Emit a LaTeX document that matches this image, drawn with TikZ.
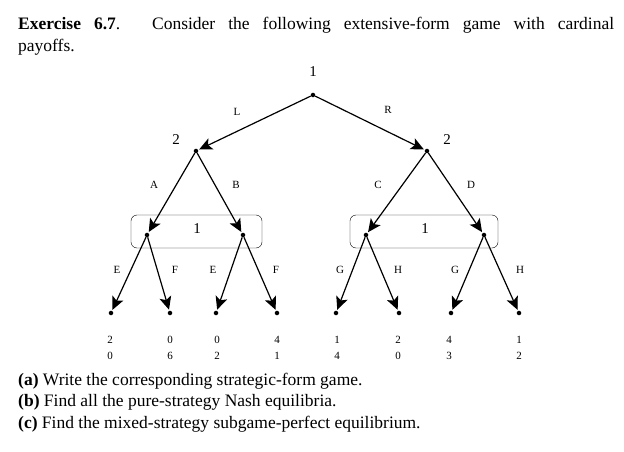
\documentclass[tikz,border=0pt]{standalone}
\usepackage{fontspec}
\setmainfont{Liberation Serif}
\usetikzlibrary{arrows.meta}
\begin{document}
\begin{tikzpicture}[x=1pt,y=-1pt,
  dot/.style={circle,fill,inner sep=1.6pt},
  edge/.style={line width=1.2pt,-{Stealth[length=13pt,width=12pt,inset=3pt]},shorten >=1pt},
  lab/.style={font=\fontsize{11}{12}\selectfont},
  pl/.style={font=\fontsize{15}{16}\selectfont},
  pay/.style={font=\fontsize{11}{16}\selectfont,align=center},
  iset/.style={draw,rounded corners=6pt,line width=0.4pt},
  txt/.style={font=\fontsize{17.5}{22}\selectfont,anchor=west,inner sep=0}]
\useasboundingbox (0,0) rectangle (624,452);
\node[txt] (hd) at (18,25)
 {\makebox[596pt][s]{\textbf{Exercise 6.7}. Consider the following extensive-form game with cardinal}};
\node[txt] (hd2) at (18,47) {payoffs.};
\node[iset,minimum width=131pt,minimum height=33pt] (b1) at (196.5,231.5) {};
\node[iset,minimum width=148pt,minimum height=33pt] (b2) at (424,231.5) {};
\node[dot] (r) at (313,95) {};
\node[dot] (n1) at (196,151) {};
\node[dot] (n2) at (427,151) {};
\node[dot] (a1) at (147,235) {};
\node[dot] (a2) at (243,235) {};
\node[dot] (a3) at (366,235) {};
\node[dot] (a4) at (484,235) {};
\foreach \i/\x in {1/111,2/170,3/216,4/277,5/336,6/399,7/451,8/519}
  \node[dot] (t\i) at (\x,313) {};
\draw[edge] (r) -- (n1); \draw[edge] (r) -- (n2);
\draw[edge] (n1) -- (a1); \draw[edge] (n1) -- (a2);
\draw[edge] (n2) -- (a3); \draw[edge] (n2) -- (a4);
\draw[edge] (a1) -- (t1); \draw[edge] (a1) -- (t2);
\draw[edge] (a2) -- (t3); \draw[edge] (a2) -- (t4);
\draw[edge] (a3) -- (t5); \draw[edge] (a3) -- (t6);
\draw[edge] (a4) -- (t7); \draw[edge] (a4) -- (t8);
\node[pl] (p0) at (313,72) {1};
\node[pl] (p1) at (176,140) {2};
\node[pl] (p2) at (447,140) {2};
\node[pl] (p3) at (197,229) {1};
\node[pl] (p4) at (425,229) {1};
\node[lab] (lL) at (237,112) {L};
\node[lab] (lR) at (388,110) {R};
\node[lab] (lA) at (154,185) {A};
\node[lab] (lB) at (236,185) {B};
\node[lab] (lC) at (378,185) {C};
\node[lab] (lD) at (471,185) {D};
\foreach \n/\x/\t in {e1/117/E,f1/175/F,e2/213/E,f2/276/F,g1/340/G,h1/398/H,g2/455/G,h2/520/H}
  \node[lab] (\n) at (\x,270) {\t};
\foreach \n/\x/\a/\b in {q1/110/2/0,q2/170/0/6,q3/217/0/2,q4/277/4/1,q5/337/1/4,q6/398/2/0,q7/449/4/3,q8/519/1/2}
  \node[pay] (\n) at (\x,348) {\a\\\b};
\node[txt] (qa) at (18,381) {\textbf{(a)} Write the corresponding strategic-form game.};
\node[txt] (qb) at (18,402) {\textbf{(b)} Find all the pure-strategy Nash equilibria.};
\node[txt] (qc) at (18,424) {\textbf{(c)} Find the mixed-strategy subgame-perfect equilibrium.};
\end{tikzpicture}
\end{document}
